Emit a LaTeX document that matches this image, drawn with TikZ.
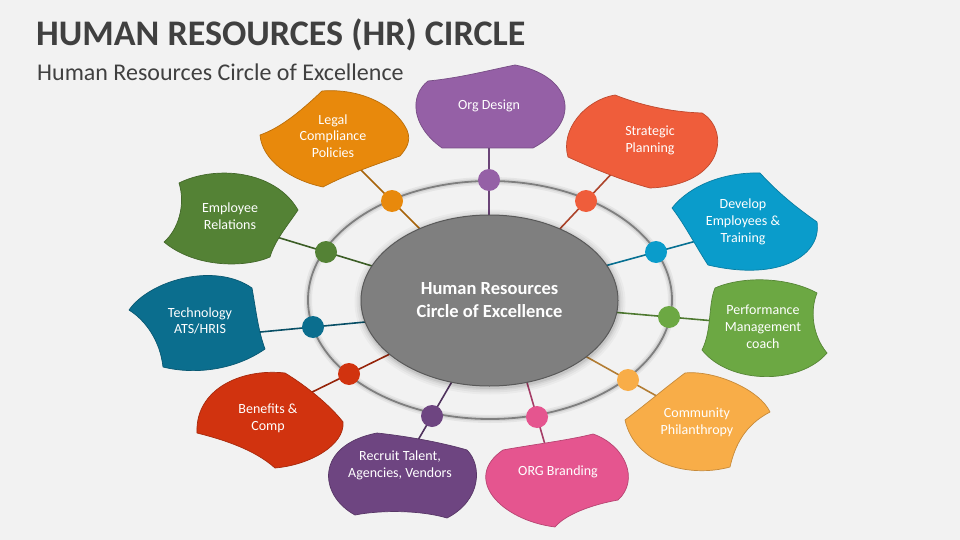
\documentclass[tikz,border=0pt]{standalone}
\usepackage{fontspec}
\setmainfont{Carlito}
\usetikzlibrary{calc,shapes.geometric}
\definecolor{bg}{HTML}{F2F2F2}
\definecolor{titlegray}{HTML}{404040}
\definecolor{ringgray}{HTML}{7F7F7F}
\definecolor{hubfill}{HTML}{7F7F7F}
\definecolor{cOrg}{HTML}{9560A6}
\definecolor{cLegal}{HTML}{E8890C}
\definecolor{cStrat}{HTML}{EF5D3B}
\definecolor{cDev}{HTML}{0A9CCB}
\definecolor{cPerf}{HTML}{6CA843}
\definecolor{cComm}{HTML}{F8AD48}
\definecolor{cBrand}{HTML}{E5558F}
\definecolor{cRecr}{HTML}{6E4581}
\definecolor{cBen}{HTML}{D1330F}
\definecolor{cTech}{HTML}{0B6E8E}
\definecolor{cEmp}{HTML}{548235}
\tikzset{
  lbl/.style={text=white, align=center, font=\fontsize{14}{16.8}\selectfont, inner sep=0pt},
  blob/.style={fill=#1, draw=#1!80!black, line width=0.7pt, line join=round},
  dotn/.style={circle, fill=#1, minimum size=22pt, inner sep=0pt},
  conn/.style={draw=#1!72!black, line width=1.6pt},
}
\begin{document}
\begin{tikzpicture}[x=1pt,y=-1pt]
\useasboundingbox (0,0) rectangle (960,540);
\fill[bg] (0,0) rectangle (960,540);

% titles
\node[anchor=base west, inner sep=0pt, text=titlegray, font=\bfseries\fontsize{36}{40}\selectfont] (title) at (36,45.7) {HUMAN RESOURCES (HR) CIRCLE};
\node[anchor=base west, inner sep=0pt, text=titlegray, font=\fontsize{24}{28}\selectfont] (subtitle) at (37,81) {Human Resources Circle of Excellence};

% outer ring with soft shadow
\draw[black, opacity=0.05, line width=8pt] (490,300) ellipse [x radius=182, y radius=119];
\draw[black, opacity=0.08, line width=4.5pt] (490,300) ellipse [x radius=182, y radius=119];
\draw[ringgray, line width=1.8pt] (490,300) ellipse [x radius=182, y radius=119];

% dot positions
\coordinate (pOrg) at (489,180);
\coordinate (pLegal) at (392,201);
\coordinate (pStrat) at (586,201);
\coordinate (pDev) at (656,252);
\coordinate (pPerf) at (669,317);
\coordinate (pComm) at (628,380);
\coordinate (pBrand) at (537,417);
\coordinate (pRecr) at (432,416);
\coordinate (pBen) at (349,374);
\coordinate (pTech) at (313,327);
\coordinate (pEmp) at (326,252);

% outer connector ends (inside the shapes)
\coordinate (eOrg) at (489,140);
\coordinate (eLegal) at (358,167);
\coordinate (eStrat) at (616,169);
\coordinate (eDev) at (700,240);
\coordinate (ePerf) at (715,321);
\coordinate (eComm) at (662,399);
\coordinate (eBrand) at (546,448);
\coordinate (eRecr) at (414,447);
\coordinate (eBen) at (302,397);
\coordinate (eTech) at (250,333);
\coordinate (eEmp) at (270,235);

% connectors (inner part hidden under hub)
\foreach \n/\c in {Org/cOrg,Legal/cLegal,Strat/cStrat,Dev/cDev,Perf/cPerf,Comm/cComm,Brand/cBrand,Recr/cRecr,Ben/cBen,Tech/cTech,Emp/cEmp}{
  \draw[conn=\c] (e\n) -- (p\n) -- ($(e\n)!3!(p\n)$);
}

% hub shadow
\foreach \i/\o in {7/0.03,5/0.04,3/0.05,1.5/0.07}{
  \fill[black, opacity=\o] (490,302) ellipse [x radius=128.5+\i, y radius=85.5+\i];
}
\node[ellipse, fill=hubfill, draw=black!65, line width=1pt, minimum width=257pt, minimum height=171pt, inner sep=0pt,
      text=white, align=center, font=\bfseries\fontsize{18.5}{23}\selectfont] (hub) at (489.5,300.5) {Human Resources\\Circle of Excellence};

% dots
\node[dotn=cOrg] (dOrg) at (pOrg) {};
\node[dotn=cLegal] (dLegal) at (pLegal) {};
\node[dotn=cStrat] (dStrat) at (pStrat) {};
\node[dotn=cDev] (dDev) at (pDev) {};
\node[dotn=cPerf] (dPerf) at (pPerf) {};
\node[dotn=cComm] (dComm) at (pComm) {};
\node[dotn=cBrand] (dBrand) at (pBrand) {};
\node[dotn=cRecr] (dRecr) at (pRecr) {};
\node[dotn=cBen] (dBen) at (pBen) {};
\node[dotn=cTech] (dTech) at (pTech) {};
\node[dotn=cEmp] (dEmp) at (pEmp) {};

% shapes
\filldraw[blob=cOrg] (428,81) .. controls (460,78) and (490,70) .. (515,65) .. controls (570,75) and (585,120) .. (533,148) -- (442,148) .. controls (410,125) and (410,95) .. (428,81) -- cycle;
\filldraw[blob=cLegal] (322,91) .. controls (360,88) and (395,105) .. (407,130) .. controls (412,142) and (405,150) .. (400,156) .. controls (380,163) and (345,175) .. (323,187) .. controls (290,180) and (262,160) .. (260,135) .. controls (280,128) and (300,112) .. (322,91) -- cycle;
\filldraw[blob=cEmp] (179,183) .. controls (215,165) and (275,170) .. (298,210) .. controls (288,225) and (275,240) .. (270,257) .. controls (245,268) and (195,268) .. (164,242) .. controls (178,230) and (186,205) .. (179,183) -- cycle;
\filldraw[blob=cStrat] (615,95) .. controls (640,105) and (670,112) .. (702,113) .. controls (730,130) and (725,185) .. (650,188) .. controls (620,180) and (590,167) .. (568,157) .. controls (560,130) and (585,100) .. (615,95) -- cycle;
\filldraw[blob=cDev] (672,208) .. controls (690,185) and (725,172) .. (760,173) .. controls (780,195) and (800,210) .. (817,222) .. controls (822,255) and (780,282) .. (708,265) .. controls (695,245) and (685,225) .. (672,208) -- cycle;
\filldraw[blob=cPerf] (715,288) .. controls (745,275) and (790,278) .. (817,293) .. controls (810,310) and (812,335) .. (827,353) .. controls (800,385) and (730,385) .. (702,350) .. controls (712,330) and (708,305) .. (715,288) -- cycle;
\filldraw[blob=cComm] (625,420) .. controls (645,405) and (665,388) .. (685,373) .. controls (715,370) and (760,390) .. (770,412) .. controls (745,425) and (735,445) .. (730,467) .. controls (690,478) and (635,465) .. (625,420) -- cycle;
\filldraw[blob=cBrand] (503,450) .. controls (530,445) and (570,440) .. (593,434) .. controls (625,445) and (640,480) .. (618,500) .. controls (590,505) and (565,515) .. (555,527) .. controls (500,520) and (462,478) .. (503,450) -- cycle;
\filldraw[blob=cRecr] (377,433) .. controls (405,436) and (440,442) .. (467,450) .. controls (482,465) and (482,500) .. (447,518) .. controls (420,510) and (380,510) .. (355,515) .. controls (318,495) and (315,445) .. (377,433) -- cycle;
\filldraw[blob=cBen] (197,433) .. controls (195,390) and (240,368) .. (285,373) .. controls (305,385) and (330,405) .. (343,422) .. controls (345,445) and (310,465) .. (275,468) .. controls (255,450) and (225,440) .. (197,433) -- cycle;
\filldraw[blob=cTech] (129,310) .. controls (150,280) and (215,262) .. (252,288) .. controls (256,310) and (258,330) .. (265,349) .. controls (235,370) and (195,375) .. (163,367) .. controls (160,340) and (145,320) .. (129,310) -- cycle;

% labels
\node[lbl] (org) at (489,106) {Org Design};
\node[lbl] (legal) at (333,136) {Legal\\Compliance\\Policies};
\node[lbl] (strat) at (650,140) {Strategic\\Planning};
\node[lbl] (dev) at (743,222) {Develop\\Employees \&\\Training};
\node[lbl] (perf) at (763,327) {Performance\\Management\\coach};
\node[lbl] (comm) at (697,422) {Community\\Philanthropy};
\node[lbl] (brand) at (558,472) {ORG Branding};
\node[lbl] (recr) at (400,465) {Recruit Talent,\\Agencies, Vendors};
\node[lbl] (ben) at (268,418) {Benefits \&\\Comp};
\node[lbl] (tech) at (200,321) {Technology\\ATS/HRIS};
\node[lbl] (emp) at (230,216) {Employee\\Relations};
\end{tikzpicture}
\end{document}
